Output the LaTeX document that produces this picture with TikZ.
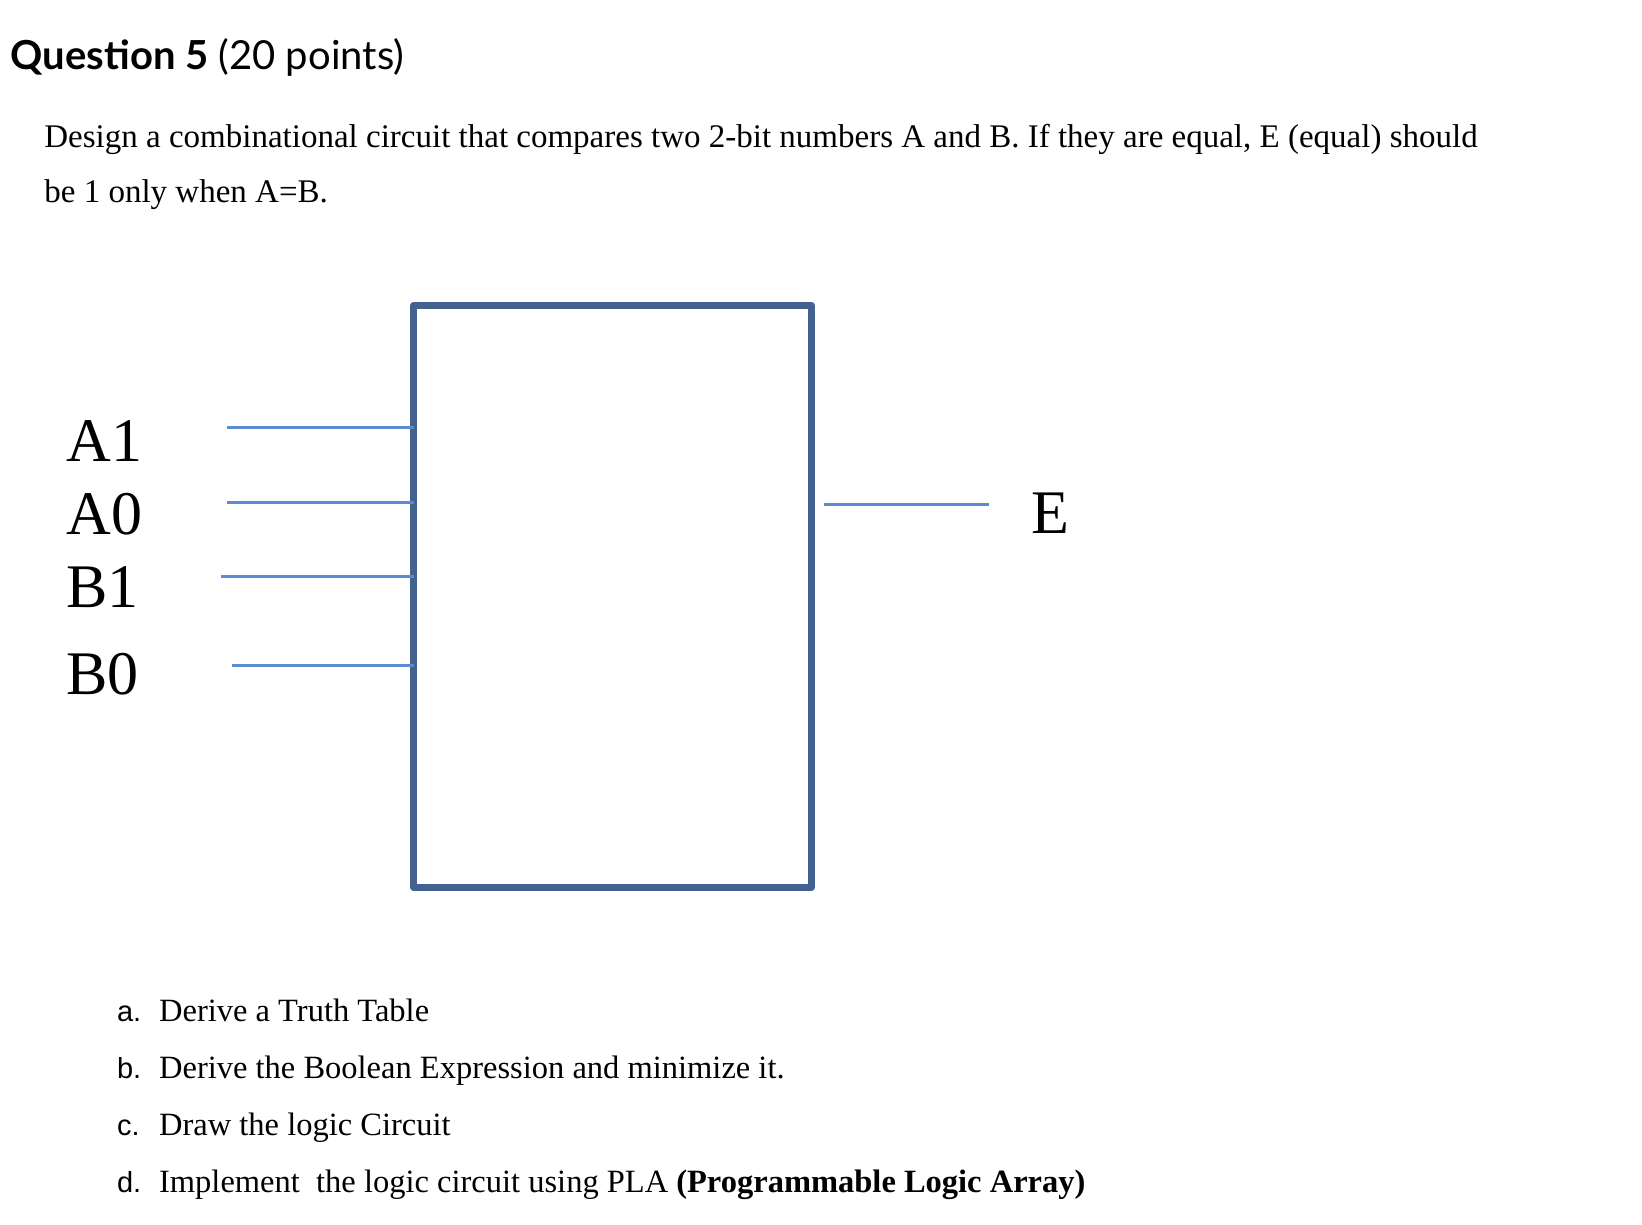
\documentclass[tikz,border=0pt]{standalone}
\usepackage{fontspec}
\setmainfont{Liberation Serif}
\newfontfamily\latofont{Lato}
\newfontfamily\helvfont{Liberation Sans}
\definecolor{boxc}{HTML}{44628F}
\definecolor{wirec}{HTML}{5B8BD0}
\begin{document}
\begin{tikzpicture}[x=1.0526pt,y=-1.0526pt,
  txt/.style={anchor=base west,inner sep=0pt},
  wire/.style={wirec,line width=3pt},
  lbl/.style={anchor=base west,inner sep=0pt,font=\fontsize{62}{62}\selectfont}]
\useasboundingbox (0,0) rectangle (1560,1163);
\node[txt,font=\latofont\fontsize{40}{40}\selectfont] (q) at (10,66) {\textbf{Question 5} (20 points)};
\node[txt,font=\fontsize{33}{33}\selectfont] (l1) at (42,140) {Design a combinational circuit that compares two 2-bit numbers A and B. If they are equal, E (equal) should};
\node[txt,font=\fontsize{33}{33}\selectfont] (l2) at (42,192) {be 1 only when A=B.};
\draw[boxc,line width=7pt,line join=round] (393,290) rectangle (771,843);
\coordinate (bw) at (393,290);
\coordinate (a1) at (216,406); \coordinate (a0) at (216,477);
\coordinate (b1) at (210,548); \coordinate (b0) at (220,632);
\draw[wire] (a1) -- (a1 -| bw);
\draw[wire] (a0) -- (a0 -| bw);
\draw[wire] (b1) -- (b1 -| bw);
\draw[wire] (b0) -- (b0 -| bw);
\coordinate (ei) at (783,479); \coordinate (eo) at (940,479);
\draw[wire] (ei) -- (eo);
\node[lbl] (tA1) at (63,438) {A1};
\node[lbl] (tA0) at (63,508) {A0};
\node[lbl] (tB1) at (63,577) {B1};
\node[lbl] (tB0) at (63,660) {B0};
\node[lbl] (tE) at (980,507) {E};
\foreach \n/\y/\l/\t in {la/970/a./{Derive a Truth Table},lb/1025/b./{Derive the Boolean Expression and minimize it.},lc/1079/c./{Draw the logic Circuit},ld/1133/d./{Implement\ \ the logic circuit using PLA \textbf{(Programmable Logic Array)}}}{
  \node[txt,font=\helvfont\fontsize{29}{29}\selectfont] (\n m) at (111,\y) {\l};
  \node[txt,font=\fontsize{32.5}{32.5}\selectfont] (\n) at (151,\y) {\t};
}
\end{tikzpicture}
\end{document}
